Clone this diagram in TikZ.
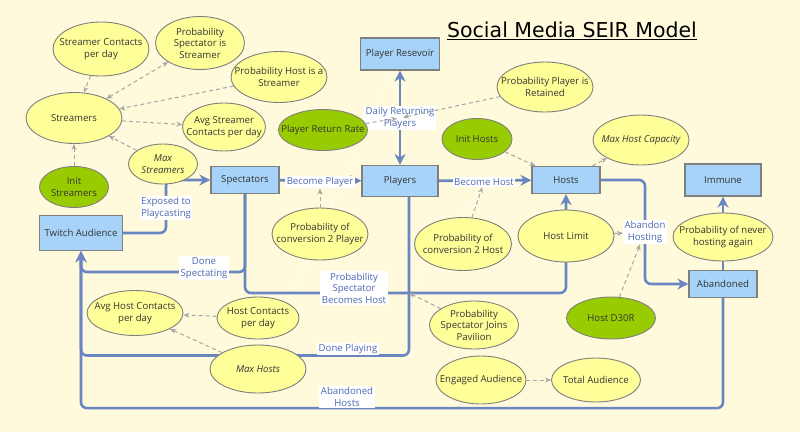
\documentclass[tikz,border=0pt]{standalone}
\usepackage{fontspec}
\setmainfont{Open Sans}
\newfontfamily\titlefont{DejaVu Sans}
\usetikzlibrary{positioning,arrows.meta,shapes.geometric,calc}

\definecolor{cream}{HTML}{FFFADC}
\definecolor{stockblue}{HTML}{A6D3F7}
\definecolor{boxgray}{HTML}{7F7F7F}
\definecolor{auxyellow}{HTML}{FFFF99}
\definecolor{paramgreen}{HTML}{99CC00}
\definecolor{flowblue}{HTML}{6A86C2}
\definecolor{ratetext}{HTML}{4D69B0}
\definecolor{linkgray}{HTML}{A6A6A6}
\definecolor{inktext}{HTML}{333333}

\pgfdeclarelayer{flows}
\pgfsetlayers{flows,main}

\tikzset{
  nodefont/.style={font=\fontsize{9.6}{11.5}\selectfont},
  slantfont/.style={font=\fontsize{9.6}{11.5}\selectfont\itshape},
  stock/.style={draw=boxgray,fill=stockblue,line width=1.2pt,inner sep=0pt,text=inktext,nodefont},
  aux/.style={ellipse,draw=boxgray,fill=auxyellow,line width=0.9pt,inner xsep=-18pt,inner ysep=0pt,align=center,text=inktext,nodefont},
  param/.style={aux,fill=paramgreen},
  flow/.style={draw=flowblue,line width=2.6pt,rounded corners=6pt,-{Stealth[length=11pt,width=11pt]}},
  link/.style={draw=linkgray,dash pattern=on 4pt off 3pt,line width=1pt,-{Stealth[length=6pt,width=5pt]}},
  ghost/.style={draw=white,dash pattern=on 4pt off 3pt,line width=0.8pt},
  rate/.style={fill=white,text=ratetext,inner sep=1.5pt,align=center,nodefont},
}

\begin{document}
\begin{tikzpicture}[x=1pt,y=-1pt]
\useasboundingbox (0,0) rectangle (800,432);

\node (title) at (572,31) {\titlefont\fontsize{20.5}{22}\selectfont\underline{Social Media SEIR Model}};

% stocks
\node (resv) [stock,minimum width=79pt,minimum height=32pt] at (400,54) {Player Resevoir};
\node (spect) [stock,minimum width=68pt,minimum height=27pt] at (245,180) {Spectators};
\node (players) [stock,minimum width=76pt,minimum height=31pt] at (400,181) {Players};
\node (hosts) [stock,minimum width=68pt,minimum height=27pt] at (566,180) {Hosts};
\node (immune) [stock,minimum width=76pt,minimum height=32pt] at (723,180) {Immune};
\node (aband) [stock,minimum width=68pt,minimum height=27pt] at (723,284) {Abandoned};
\node (twitch) [stock,minimum width=83pt,minimum height=35pt] at (81,233) {Twitch Audience};

% rate labels
\node (expo) [rate] at (166,208) {Exposed to\\Playcasting};
\node (bplayer) [rate] at (320,182) {Become Player};
\node (drp) [rate] at (400,118) {Daily Returning\\Players};
\node (bhost) [rate] at (484,182) {Become Host};
\node (abhost) [rate] at (645,232) {Abandon\\Hosting};
\node (donesp) [rate] at (204,268) {Done\\Spectating};
\node (psbh) [rate] at (354,288) {Probability\\Spectator\\Becomes Host};
\node (doneplay) [rate] at (348,349) {Done Playing};
\node (abhosts) [rate] at (347,397) {Abandoned\\Hosts};
\coordinate (psbhv) at (409,293);

% auxiliaries
\node (scpd) [aux,minimum width=96pt,minimum height=54pt] at (101,49) {Streamer Contacts\\per day};
\node (pss) [aux,minimum width=89pt,minimum height=53pt] at (200,43) {Probability\\Spectator is\\Streamer};
\node (phs) [aux,minimum width=96pt,minimum height=51pt] at (279,77) {Probability Host is a\\Streamer};
\node (streamers) [aux,minimum width=96pt,minimum height=51pt] at (74,118) {Streamers};
\node (ascpd) [aux,minimum width=83pt,minimum height=48pt] at (224,127) {Avg Streamer\\Contacts per day};
\node (prr) [param,minimum width=89pt,minimum height=41pt] at (323,130) {Player Return Rate};
\node (maxstr) [aux,minimum width=69pt,minimum height=40pt,slantfont] at (163,164) {Max\\Streamers};
\node (initstr) [param,minimum width=69pt,minimum height=41pt] at (74,187) {Init\\Streamers};
\node (ppr) [aux,minimum width=96pt,minimum height=50pt] at (545,87) {Probability Player is\\Retained};
\node (inithosts) [param,minimum width=70pt,minimum height=41pt] at (477,139) {Init Hosts};
\node (mhc) [aux,minimum width=96pt,minimum height=50pt,slantfont] at (641,140) {Max Host Capacity};
\node (conv2p) [aux,minimum width=96pt,minimum height=52pt] at (320,234) {Probability of\\conversion 2 Player};
\node (conv2h) [aux,minimum width=97pt,minimum height=53pt] at (463,244) {Probability of\\conversion 2 Host};
\node (hostlimit) [aux,minimum width=96pt,minimum height=52pt] at (566,236) {Host Limit};
\node (pnever) [aux,minimum width=100pt,minimum height=48pt] at (723,237) {Probability of never\\hosting again};
\node (psjp) [aux,minimum width=89pt,minimum height=48pt] at (474,325) {Probability\\Spectator Joins\\Pavilion};
\node (hostd30r) [param,minimum width=89pt,minimum height=42pt] at (611,318) {Host D30R};
\node (engaged) [aux,minimum width=90pt,minimum height=48pt] at (481,380) {Engaged Audience};
\node (totalaud) [aux,minimum width=89pt,minimum height=44pt] at (596,380) {Total Audience};
\node (ahcpd) [aux,minimum width=96pt,minimum height=45pt] at (135,313) {Avg Host Contacts\\per day};
\node (hcpd) [aux,minimum width=82pt,minimum height=42pt] at (258,318) {Host Contacts\\per day};
\node (maxhosts) [aux,minimum width=96pt,minimum height=48pt,slantfont] at (258,369) {Max Hosts};

% flows
\begin{pgfonlayer}{flows}
\fill[cream] (0,0) rectangle (800,432);
\draw[ghost] (resv) -- (maxhosts);
\draw[ghost] (bhost) -- (psbhv);
\draw[flow] (twitch.east) -| (expo.center) |- (spect.west);
\draw[flow] (spect) -- (players);
\draw[flow,{Stealth[length=11pt,width=11pt]}-{Stealth[length=11pt,width=11pt]}] (resv) -- (players);
\draw[flow] (players) -- (hosts);
\draw[flow] (hosts.east) -| (abhost.center) |- (aband.west);
\draw[flow] (aband) -- (immune);
\draw[flow] (spect.south) |- ($(donesp.center)+(0,4)$) -| (twitch.south);
\draw[flow] (spect.south) |- (psbhv) -| (hosts.south);
\draw[flow] ([xshift=9pt]players.south) |- (doneplay.south) -| (twitch.south);
\draw[flow] (aband.south) |- (abhosts.south) -| (twitch.south);
\end{pgfonlayer}

% links
\draw[link] (scpd) -- (streamers);
\draw[link,{Stealth[length=6pt,width=5pt]}-{Stealth[length=6pt,width=5pt]}] (streamers) -- (pss);
\draw[link] (phs) -- (streamers);
\draw[link] (streamers) -- (ascpd);
\draw[link] (maxstr) -- (streamers);
\draw[link] (initstr) -- (streamers);
\draw[link,shorten >=3pt] (prr) -- (drp.center);
\draw[link,shorten >=3pt] (ppr) -- (drp.center);
\draw[link] (inithosts) -- (hosts);
\draw[link] (hosts) -- (mhc);
\draw[link] (conv2p) -- (bplayer);
\draw[link] (conv2h) -- (bhost);
\draw[link] (hostlimit) -- (abhost);
\draw[link] (hostd30r) -- (abhost);
\draw[link] (psjp) -- (psbhv);
\draw[link] (engaged) -- (totalaud);
\draw[link] (hcpd) -- (ahcpd);
\draw[link] (maxhosts) -- (ahcpd);
\end{tikzpicture}
\end{document}
